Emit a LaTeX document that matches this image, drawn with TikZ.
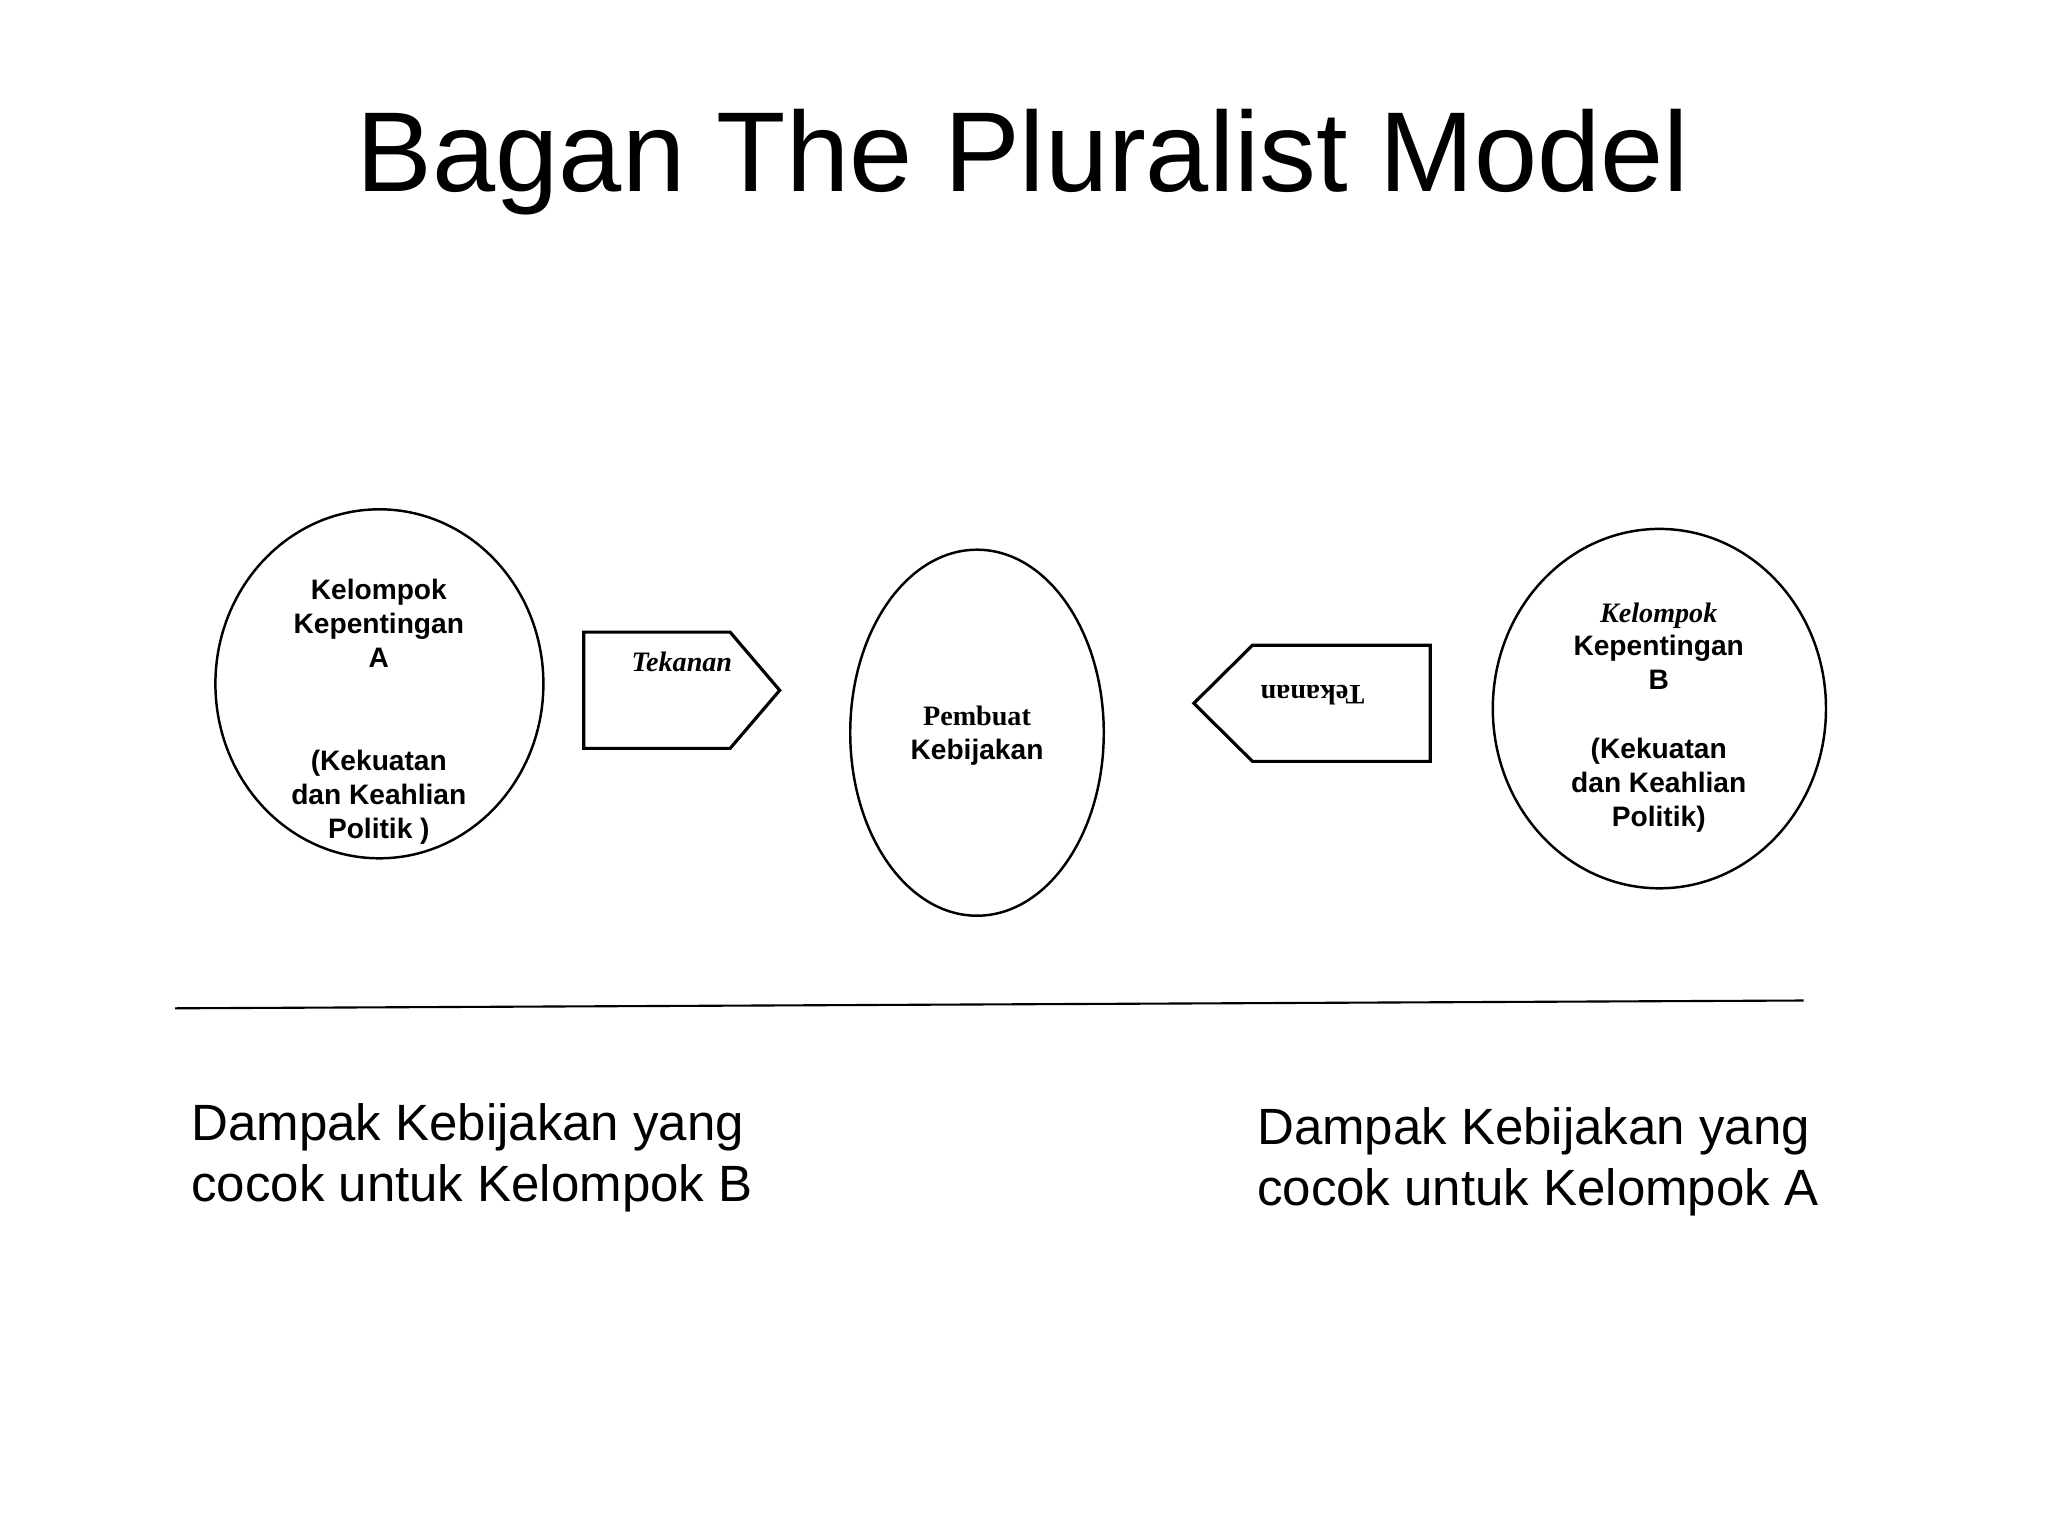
\documentclass[tikz,border=0pt]{standalone}
\usepackage{fontspec}
\setmainfont{Liberation Serif}
\setsansfont{Liberation Sans}
\usetikzlibrary{shapes.geometric}
\begin{document}
\begin{tikzpicture}[x=0.01cm,y=-0.01cm,
  blob/.style={ellipse, draw=black, line width=0.7pt, inner sep=0pt},
  arrowshape/.style={draw=black, line width=0.9pt, line join=miter},
  lbl/.style={font=\sffamily\bfseries\fontsize{8}{9.6}\selectfont, inner sep=0pt, anchor=base},
  slbl/.style={font=\rmfamily\bfseries\fontsize{8}{9.6}\selectfont, inner sep=0pt, anchor=base},
  ilbl/.style={font=\rmfamily\bfseries\itshape\fontsize{8}{9.6}\selectfont, inner sep=0pt},
  bottomtext/.style={font=\sffamily\fontsize{14.5}{17.4}\selectfont, inner sep=0pt, anchor=west, align=left}]
\fill[white] (0,0) rectangle (2048,1536);
\useasboundingbox (0,0) rectangle (2048,1536);

% title
\node[font=\sffamily\fontsize{32.3}{38}\selectfont, inner sep=0pt, anchor=base] (title) at (1023,191) {Bagan The Pluralist Model};

% left group A
\node[blob, minimum width=3.278cm, minimum height=3.488cm] (groupA) at (379.4,683.8) {};
\node[lbl] (a1) at (378.8,599) {Kelompok};
\node[lbl] (a2) at (378.8,633) {Kepentingan};
\node[lbl] (a3) at (378.8,667) {A};
\node[lbl] (a4) at (378.8,770) {(Kekuatan};
\node[lbl] (a5) at (378.8,804) {dan Keahlian};
\node[lbl] (a6) at (378.8,838) {Politik )};

% left arrow
\coordinate (la1) at (583.8,632.1);
\coordinate (la2) at (730.1,632.1);
\coordinate (la3) at (779.7,690.3);
\coordinate (la4) at (730.1,748.4);
\coordinate (la5) at (583.8,748.4);
\draw[arrowshape] (la1) -- (la2) -- (la3) -- (la4) -- (la5) -- cycle;
\node[ilbl] (tekA) at (681.8,662.2) {Tekanan};

% center
\node[blob, minimum width=2.534cm, minimum height=3.658cm] (policy) at (977,732.7) {};
\node[slbl] (p1) at (977,725.7) {Pembuat};
\node[lbl] (p2) at (977,759.7) {Kebijakan};

% right arrow
\coordinate (ra1) at (1430.2,645.2);
\coordinate (ra2) at (1252.5,645.2);
\coordinate (ra3) at (1193.8,703.3);
\coordinate (ra4) at (1252.5,761.4);
\coordinate (ra5) at (1430.2,761.4);
\draw[arrowshape] (ra1) -- (ra2) -- (ra3) -- (ra4) -- (ra5) -- cycle;
\node[slbl, anchor=center, rotate=180] (tekB) at (1312.6,694.8) {Tekanan};

% right group B
\node[blob, minimum width=3.33cm, minimum height=3.592cm] (groupB) at (1659.4,708.6) {};
\node[ilbl, anchor=base] (b1) at (1658.7,622.6) {Kelompok};
\node[lbl] (b2) at (1658.7,655.2) {Kepentingan};
\node[lbl] (b3) at (1658.7,689.2) {B};
\node[lbl] (b4) at (1658.7,758.4) {(Kekuatan};
\node[lbl] (b5) at (1658.7,792.3) {dan Keahlian};
\node[lbl] (b6) at (1658.7,826.3) {Politik)};

% divider line
\coordinate (lineL) at (175,1008.3);
\coordinate (lineR) at (1803.7,1000.5);
\draw[line width=0.6pt] (lineL) -- (lineR);

% bottom texts
\node[bottomtext] (impB) at (190.7,1157.6) {Dampak Kebijakan yang\\cocok untuk Kelompok B};
\node[bottomtext] (impA) at (1256.5,1161.5) {Dampak Kebijakan yang\\cocok untuk Kelompok A};
\end{tikzpicture}
\end{document}
